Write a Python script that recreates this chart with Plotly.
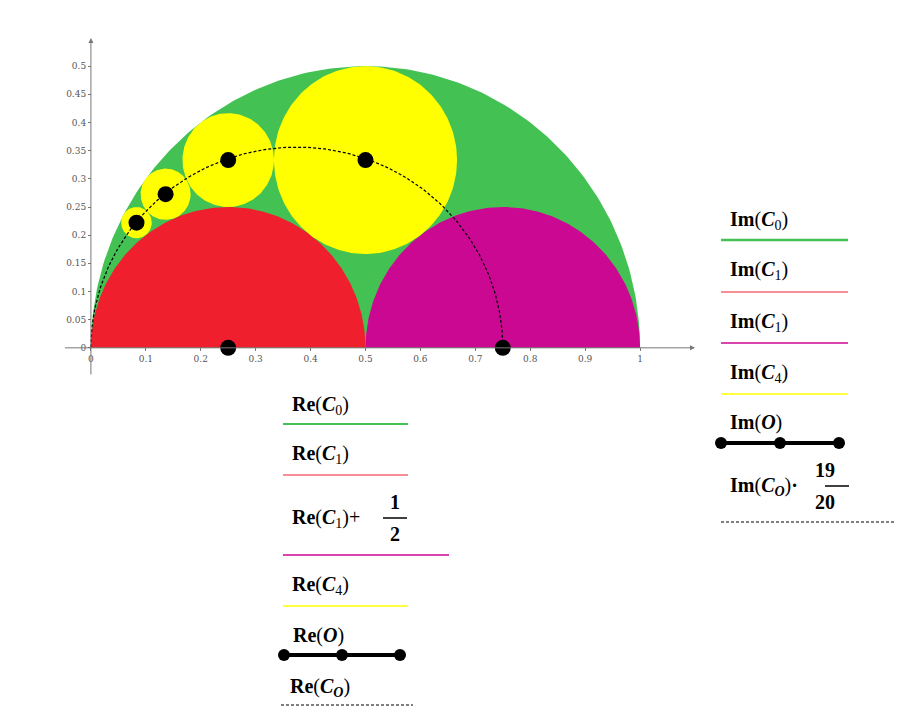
import numpy as np
import plotly.graph_objects as go

# circles: (center x, center y, radius)
outer = (0.5, 0.0, 0.5)
left = (0.25, 0.0, 0.25)
right = (0.75, 0.0, 0.25)
chain_x = [0.5, 0.25, 0.136, 0.083]
chain_y = [0.3333, 0.3333, 0.2727, 0.2222]
chain_r = [0.1667, 0.0833, 0.0455, 0.0278]
dot_x = [0.5, 0.25, 0.136, 0.083, 0.25, 0.75]
dot_y = [0.3333, 0.3333, 0.2727, 0.2222, 0.0, 0.0]
orbit_c, orbit_r, orbit_k = 0.375, 0.375, 19 / 20

xticks = [0, 0.1, 0.2, 0.3, 0.4, 0.5, 0.6, 0.7, 0.8, 0.9, 1]
yticks = [0, 0.05, 0.1, 0.15, 0.2, 0.25, 0.3, 0.35, 0.4, 0.45, 0.5]

GREEN, RED, MAG, YEL = "#43c253", "#ef1f2d", "#cb0892", "#ffff00"

fig = go.Figure()


def semi(c, color):
    t = np.linspace(0, np.pi, 200)
    fig.add_trace(go.Scatter(x=c[0] + c[2] * np.cos(t), y=c[1] + c[2] * np.sin(t),
                             fill="toself", fillcolor=color, mode="lines",
                             line=dict(width=0, color=color), hoverinfo="skip"))


semi(outer, GREEN)
semi(left, RED)
semi(right, MAG)
t = np.linspace(0, 2 * np.pi, 200)
for cx, cy, r in zip(chain_x, chain_y, chain_r):
    fig.add_trace(go.Scatter(x=cx + r * np.cos(t), y=cy + r * np.sin(t), fill="toself",
                             fillcolor=YEL, mode="lines", line=dict(width=0, color=YEL)))
ta = np.linspace(0, np.pi, 200)
fig.add_trace(go.Scatter(x=orbit_c + orbit_r * np.cos(ta), y=orbit_k * orbit_r * np.sin(ta),
                         mode="lines", line=dict(color="black", width=1.2, dash="3px,2px")))
fig.add_trace(go.Scatter(x=dot_x, y=dot_y, mode="markers",
                         marker=dict(color="black", size=16)))

L, T, W, H = 28, 30, 659, 338


def px(x):
    return (x - L) / W


def py(y):
    return (T + H - y) / H


ann = []
shapes = []
font = dict(family="Liberation Serif", size=20, color="black")


def entry(x0, x1, ty, ly, text, color, width=2, dash=None, dots=False):
    ann.append(dict(xref="paper", yref="paper", x=px(x0 + 7), y=py(ty), text=text,
                    showarrow=False, xanchor="left", yanchor="middle", font=font))
    shapes.append(dict(type="line", xref="paper", yref="paper", x0=px(x0), x1=px(x1),
                       y0=py(ly), y1=py(ly), line=dict(color=color, width=width, dash=dash)))
    if dots:
        for xx in (x0, (x0 + x1) / 2, x1):
            shapes.append(dict(type="circle", xref="paper", yref="paper", fillcolor="black",
                               line=dict(width=0), x0=px(xx - 6), x1=px(xx + 6),
                               y0=py(ly + 6), y1=py(ly - 6)))


def frac(x, ty, a, b):
    ann.append(dict(xref="paper", yref="paper", x=px(x), y=py(ty - 3), text=a,
                    showarrow=False, font=font, yanchor="bottom"))
    ann.append(dict(xref="paper", yref="paper", x=px(x), y=py(ty + 3), text=b,
                    showarrow=False, font=font, yanchor="top"))
    shapes.append(dict(type="line", xref="paper", yref="paper", x0=px(x - 12), x1=px(x + 12),
                       y0=py(ty), y1=py(ty), line=dict(color="black", width=1.5)))


B = lambda s: "<b>" + s + "</b>"
entry(275, 400, 397, 416, B("Re") + "(<b><i>C</i></b><sub>0</sub>)", GREEN)
entry(275, 400, 446, 467, B("Re") + "(<b><i>C</i></b><sub>1</sub>)", RED, 1)
entry(275, 441, 510, 547, B("Re") + "(<b><i>C</i></b><sub>1</sub>)+", MAG, 1.5)
frac(387, 510, B("1"), B("2"))
entry(275, 400, 577, 598, B("Re") + "(<b><i>C</i></b><sub>4</sub>)", YEL, 1.5)
entry(276, 392, 627, 647, B("Re") + "(<b><i>O</i></b>)", "black", 4, dots=True)
entry(273, 405, 679, 697, B("Re") + "(<b><i>C<sub>O</sub></i></b>)", "black", 1, "3px,2px")

entry(713, 840, 212, 232, B("Im") + "(<b><i>C</i></b><sub>0</sub>)", GREEN, 2.5)
entry(713, 840, 262, 284, B("Im") + "(<b><i>C</i></b><sub>1</sub>)", RED, 1)
entry(713, 840, 314, 335, B("Im") + "(<b><i>C</i></b><sub>1</sub>)", MAG, 1.5)
entry(713, 840, 365, 386, B("Im") + "(<b><i>C</i></b><sub>4</sub>)", YEL, 1.5)
entry(713, 831, 414, 435, B("Im") + "(<b><i>O</i></b>)", "black", 4, dots=True)
entry(713, 887, 478, 514, B("Im") + "(<b><i>C<sub>O</sub></i></b>)<b>·</b>", "black", 1, "3px,2px")
frac(829, 478, B("19"), B("20"))

# axis arrows
ann.append(dict(x=1.1, y=0, ax=-0.05, ay=0, xref="x", yref="y", axref="x", ayref="y",
                text="", showarrow=True, arrowhead=2, arrowcolor="#777", arrowwidth=1))
ann.append(dict(x=0, y=0.55, ax=0, ay=-0.05, xref="x", yref="y", axref="x", ayref="y",
                text="", showarrow=True, arrowhead=2, arrowcolor="#777", arrowwidth=1))

tickfont = dict(family="DejaVu Serif", size=9, color="#555")
fig.update_layout(
    width=914, height=707, showlegend=False, plot_bgcolor="white", paper_bgcolor="white",
    margin=dict(l=L, r=914 - L - W, t=T, b=707 - T - H, autoexpand=False),
    xaxis=dict(range=[-0.1, 1.1], showgrid=False, zeroline=False, anchor="free",
               position=py(339), tickvals=xticks, ticks="outside", ticklen=3,
               tickcolor="#777", tickfont=tickfont, showline=False, automargin=False),
    yaxis=dict(range=[-0.05, 0.55], showgrid=False, zeroline=False, anchor="free",
               position=px(83), tickvals=yticks, ticks="outside", ticklen=3,
               tickcolor="#777", tickfont=tickfont, showline=False, automargin=False),
    annotations=ann, shapes=shapes,
)
fig.write_html("out.html")
